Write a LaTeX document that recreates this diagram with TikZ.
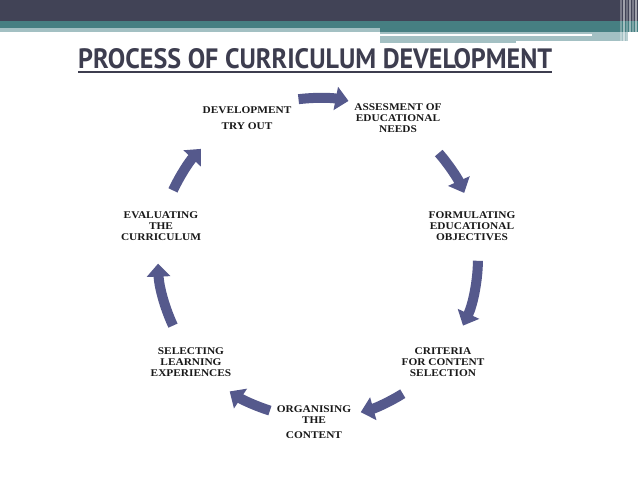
\documentclass[tikz,border=0pt]{standalone}
\usepackage{fontspec}
\newfontfamily\titlefont{PT Sans}
\newfontfamily\lblfont[FakeStretch=1.1]{Liberation Serif}
\usetikzlibrary{arrows.meta}
\definecolor{darkband}{HTML}{414356}
\definecolor{tealband}{HTML}{467F82}
\definecolor{lightband}{HTML}{A3C0C3}
\definecolor{arrowblue}{HTML}{55598C}
\definecolor{titlegray}{HTML}{3D3D4F}
\begin{document}
\begin{tikzpicture}[x=1pt,y=-1pt,
  lbl/.style={font=\lblfont\fontsize{10.3}{10.8}\selectfont\bfseries, align=center, inner sep=0pt, text=black!90},
  arr/.style={draw=arrowblue, line width=10pt, -{Triangle[width=23pt,length=13pt]}, arrowblue}]
\useasboundingbox (0,0) rectangle (638,479);
\fill[white] (0,0) rectangle (638,479);
% header bands
\fill[darkband] (0,0) rectangle (638,21);
\fill[tealband] (0,21) rectangle (638,28);
\fill[lightband] (0,28) rectangle (380,32);
\fill[tealband] (380,28) rectangle (638,32);
\fill[lightband] (380,32) rectangle (516,43);
\fill[lightband] (516,32) rectangle (628,41);
\fill[white] (380,34) rectangle (592,35.5);
\foreach \xx/\op in {620/0.3,623/0.5,626/0.25,629/0.45,632/0.3,635/0.5}
  \fill[white, opacity=\op] (\xx,0) rectangle ++(1.5,46);
% title
\node[anchor=south west, inner sep=0pt, text=titlegray] (title) at (78,69)
  {\resizebox{474pt}{20pt}{\titlefont\bfseries PROCESS OF CURRICULUM DEVELOPMENT}};
\draw[titlegray, line width=1.8pt] ([yshift=-3pt]title.south west) -- ([yshift=-3pt]title.south east);
% labels
\node[lbl] (dev) at (247,118) {DEVELOPMENT\\[5pt]TRY OUT};
\node[lbl] (assess) at (398,118) {ASSESMENT OF\\EDUCATIONAL\\NEEDS};
\node[lbl] (form) at (472,226) {FORMULATING\\EDUCATIONAL\\OBJECTIVES};
\node[lbl] (crit) at (443,362) {CRITERIA\\FOR CONTENT\\SELECTION};
\node[lbl] (org) at (314,422) {ORGANISING\\THE\\[4pt]CONTENT};
\node[lbl] (sel) at (191,362) {SELECTING\\LEARNING\\EXPERIENCES};
\node[lbl] (eval) at (161,226) {EVALUATING\\THE\\CURRICULUM};
% arrows on a circle
\coordinate (c) at (318,258);
\foreach \a/\b in {263/281, 319/336, 1/25, 58/74.5, 107.5/123.5, 155/178, 205/223}
  \draw[arr] ([shift={(\a:160)}]c) arc[start angle=\a, end angle=\b, radius=160];
\end{tikzpicture}
\end{document}
